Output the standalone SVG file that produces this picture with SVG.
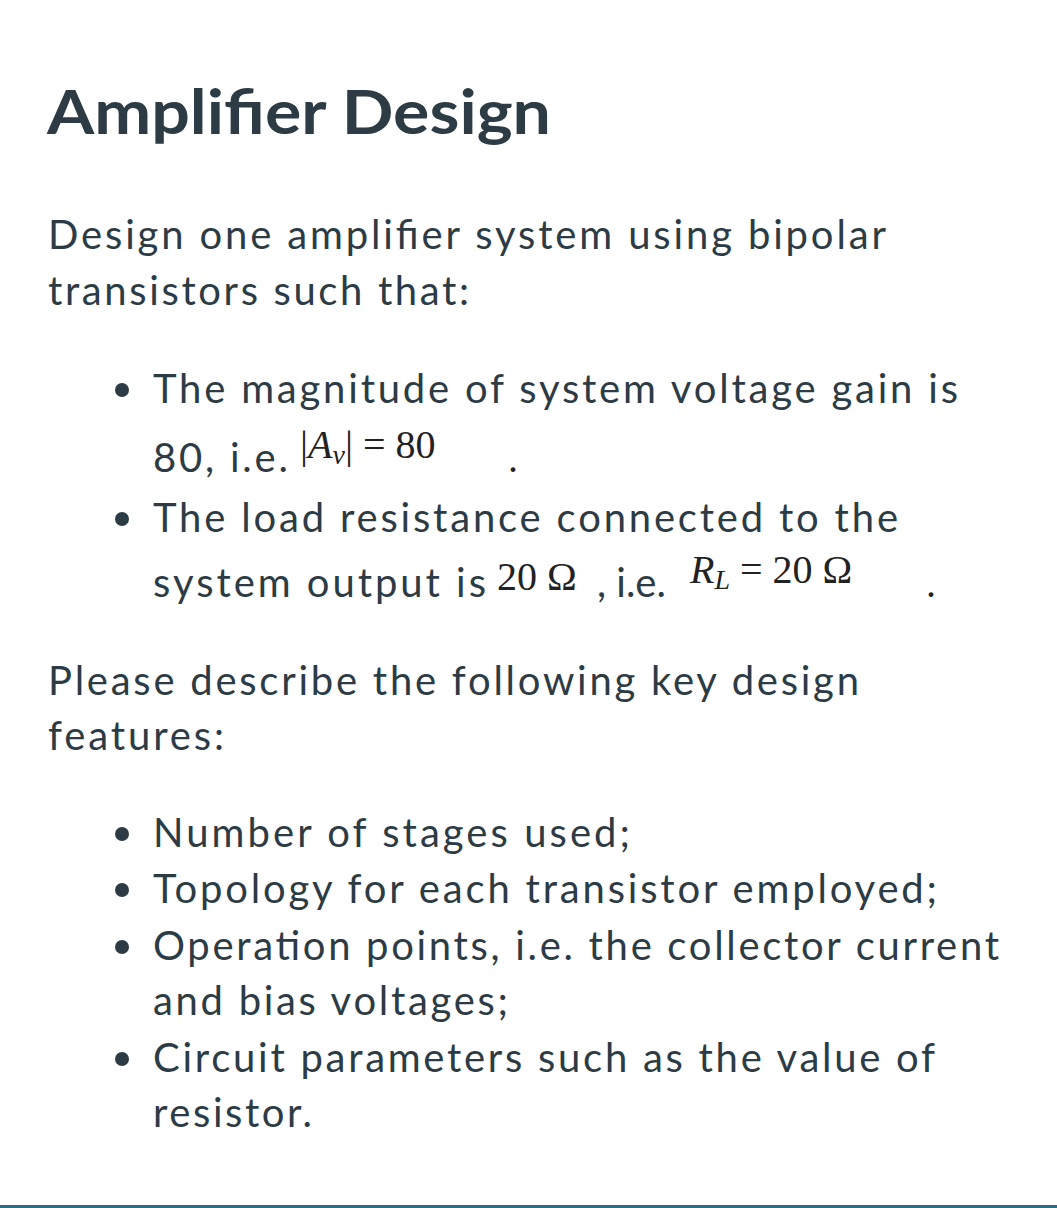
<svg xmlns="http://www.w3.org/2000/svg" width="1057" height="1208" viewBox="0 0 1057 1208">
<style>
.t{font-family:Lato,"Open Sans",sans-serif;font-size:40px;fill:#2d3b45}
.h{font-family:Lato,"Open Sans",sans-serif;font-size:62px;font-weight:bold;fill:#2d3b45}
.m{font-family:"Liberation Serif","DejaVu Serif",serif;font-size:40px;fill:#222}
.i{font-style:italic}
</style>
<rect width="1057" height="1208" fill="#fff"/>
<text class="h" x="47" y="134" textLength="504" lengthAdjust="spacingAndGlyphs">Amplifier Design</text>
<text class="t" x="48" y="249" textLength="838">Design one amplifier system using bipolar</text>
<text class="t" x="48" y="305" textLength="421">transistors such that:</text>
<g class="t">
<circle cx="122" cy="390" r="7" fill="#2d3b45"/>
<text x="153" y="403" textLength="805">The magnitude of system voltage gain is</text>
<text x="153" y="472" textLength="135">80, i.e.</text>
<text class="m" x="300" y="458">|<tspan class="i">A</tspan><tspan class="i" font-size="28" dy="6">v</tspan><tspan dy="-6">| = 80</tspan></text>
<text class="m" x="508" y="472">.</text>
<circle cx="122" cy="519" r="7" fill="#2d3b45"/>
<text x="153" y="532" textLength="745">The load resistance connected to the</text>
<text x="153" y="597" textLength="333">system output is</text>
<text class="m" x="497" y="590">20 Ω</text>
<text x="597" y="597">, i.e.</text>
<text class="m" x="690" y="583"><tspan class="i">R</tspan><tspan class="i" font-size="28" dy="6">L</tspan><tspan dy="-6"> = 20 Ω</tspan></text>
<text class="m" x="926" y="597">.</text>
</g>
<text class="t" x="48" y="695" textLength="811">Please describe the following key design</text>
<text class="t" x="48" y="750" textLength="176">features:</text>
<g class="t">
<circle cx="122" cy="834" r="7" fill="#2d3b45"/>
<text x="153" y="847" textLength="477">Number of stages used;</text>
<circle cx="122" cy="890" r="7" fill="#2d3b45"/>
<text x="153" y="903" textLength="784">Topology for each transistor employed;</text>
<circle cx="122" cy="947" r="7" fill="#2d3b45"/>
<text x="153" y="960" textLength="846">Operation points, i.e. the collector current</text>
<text x="153" y="1015" textLength="355">and bias voltages;</text>
<circle cx="122" cy="1059" r="7" fill="#2d3b45"/>
<text x="153" y="1072" textLength="782">Circuit parameters such as the value of</text>
<text x="153" y="1127" textLength="159">resistor.</text>
</g>
<rect x="0" y="1205" width="1057" height="3" fill="#2a6c80"/>
</svg>
